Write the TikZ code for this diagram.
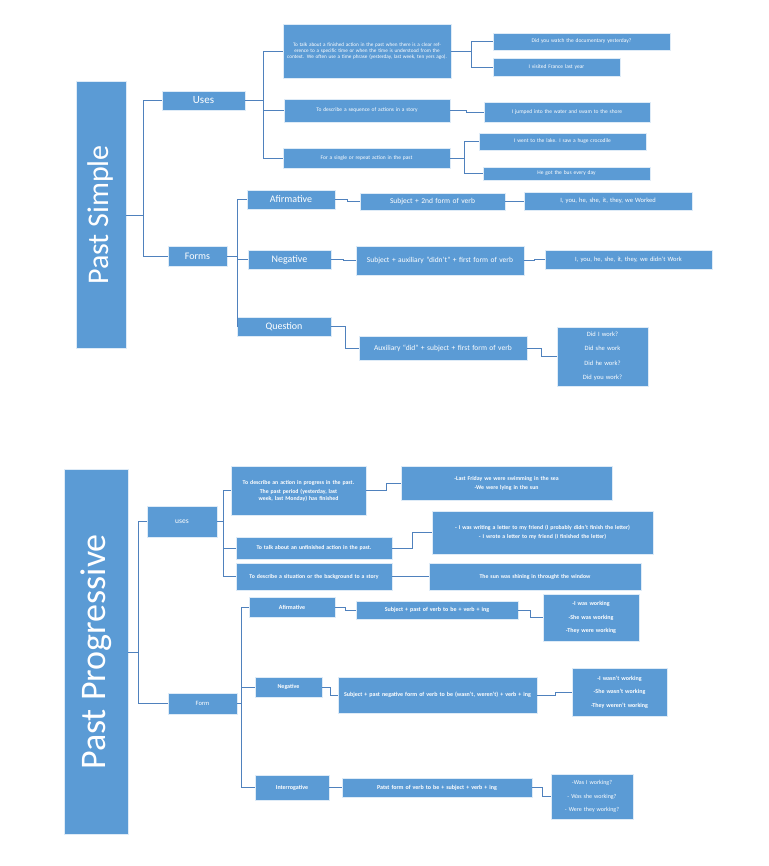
\documentclass[tikz,border=0pt]{standalone}
\usepackage{fontspec}
\setmainfont{Carlito}
\definecolor{boxblue}{HTML}{5B9BD5}
\definecolor{lineblue}{HTML}{4F81BD}
\tikzset{
  box/.style={fill=boxblue,draw=white!80!boxblue,line width=0.6pt,text=white,align=center,inner sep=1pt},
  conn/.style={draw=lineblue,line width=0.8pt,to path={-- ++(#1,0) |- (\tikztotarget)}},
  conn/.default=8pt
}
% box from corners: name, x1, y1, x2, y2, font, text
\newcommand{\bx}[7]{%
  \node[box,font=#6,minimum width=#4-#2,minimum height=#5-#3,text width=#4-#2-6]
    (#1) at ({(#2+#4)/2},{(#3+#5)/2}) {#7};}
\begin{document}
\begin{tikzpicture}[x=1pt,y=-1pt]
  \useasboundingbox (0,0) rectangle (768,866);

  % Past Simple
  \node[box,minimum width=267,minimum height=50,font=\fontsize{30}{30}\selectfont,rotate=90] (ps) at (101,215) {Past Simple};
  \bx{uses}{162}{91}{245}{110}{\fontsize{11}{12}\selectfont}{Uses}
  \bx{forms}{168}{246}{227}{266}{\fontsize{10}{12}\selectfont}{Forms}
  \bx{u1}{283}{24}{451}{78}{\fontsize{5.2}{6.3}\selectfont}{To talk about a finished action in the past when there is a clear reference to a specific time or when the time is understood from the context. We often use a time phrase (yesterday, last week, ten yers ago).}
  \bx{u1a}{493}{33}{670}{50}{\fontsize{5.5}{6.5}\selectfont}{Did you watch the documentary yesterday?}
  \bx{u1b}{493}{58}{620}{76}{\fontsize{5.5}{6.5}\selectfont}{I visited France last year}
  \bx{u2}{284}{99}{450}{122}{\fontsize{5.5}{6.5}\selectfont}{To describe a sequence of actions in a story}
  \bx{u2a}{484}{102}{650}{122}{\fontsize{5.5}{6.5}\selectfont}{I jumped into the water and swam to the shore}
  \bx{u3}{283}{148}{450}{168}{\fontsize{5.5}{6.5}\selectfont}{For a single or repeat action in the past}
  \bx{u3a}{479}{133}{646}{150}{\fontsize{5.5}{6.5}\selectfont}{I went to the lake. I saw a huge crocodile}
  \bx{u3b}{483}{167}{650}{180}{\fontsize{5.5}{6.5}\selectfont}{He got the bus every day}
  \bx{fa}{247}{190}{335}{209}{\fontsize{10}{12}\selectfont}{Afirmative}
  \bx{fas}{360}{193}{505}{210}{\fontsize{7.5}{9}\selectfont}{Subject + 2nd form of verb}
  \bx{far}{524}{192}{692}{210}{\fontsize{6.5}{8}\selectfont}{I, you, he, she, it, they, we Worked}
  \bx{fn}{248}{250}{331}{269}{\fontsize{10}{12}\selectfont}{Negative}
  \bx{fns}{356}{246}{524}{275}{\fontsize{7.5}{9}\selectfont}{Subject + auxiliary “didn’t” + first form of verb}
  \bx{fnr}{545}{250}{712}{269}{\fontsize{6.5}{8}\selectfont}{I, you, he, she, it, they, we didn’t Work}
  \bx{fq}{237}{317}{331}{336}{\fontsize{10}{12}\selectfont}{Question}
  \bx{fqs}{359}{336}{527}{360}{\fontsize{7.5}{9}\selectfont}{Auxiliary “did” + subject + first form of verb}
  \bx{fqr}{557}{327}{648}{386}{\fontsize{6.5}{14.5}\selectfont}{Did I work?\\Did she work\\Did he work?\\Did you work?}

  \path (ps.south) edge[conn=17pt] (uses.west) (ps.south) edge[conn=17pt] (forms.west)
        (uses.east) edge[conn=18pt] (u1.west) (uses.east) edge[conn=18pt] (u2.west) (uses.east) edge[conn=18pt] (u3.west)
        (u1.east) edge[conn=20pt] (u1a.west) (u1.east) edge[conn=20pt] (u1b.west)
        (u2.east) edge[conn=16pt] (u2a.west)
        (u3.east) edge[conn=14pt] (u3a.west) (u3.east) edge[conn=14pt] (u3b.west)
        (forms.east) edge[conn=10pt] (fa.west) (forms.east) edge[conn=10pt] (fn.west) (forms.east) edge[conn=10pt] (fq.west)
        (fa.east) edge[conn=12pt] (fas.west) (fas.east) edge[conn=10pt] (far.west)
        (fn.east) edge[conn=12pt] (fns.west) (fns.east) edge[conn=10pt] (fnr.west)
        (fq.east) edge[conn=14pt] (fqs.west) (fqs.east) edge[conn=14pt] (fqr.west);

  % Past Progressive
  \node[box,minimum width=365,minimum height=64,font=\fontsize{36}{36}\selectfont,rotate=90] (pp) at (96,652) {Past Progressive};
  \bx{puses}{147}{506}{217}{537}{\fontsize{7.5}{9}\selectfont}{uses}
  \bx{pform}{168}{693}{237}{714}{\fontsize{6.5}{8}\selectfont}{Form}
  \bx{p1}{231}{466}{366}{515}{\fontsize{5.8}{7}\bfseries\selectfont}{To describe an action in progress in the past.\\[2pt]The past period (yesterday, last week, last Monday) has finished}
  \bx{p1a}{401}{466}{612}{500}{\fontsize{5.8}{7}\bfseries\selectfont}{-Last Friday we were swimming in the sea\\[2pt]-We were lying in the sun}
  \bx{p2}{236}{537}{392}{559}{\fontsize{5.8}{7}\bfseries\selectfont}{To talk about an unfinished action in the past.}
  \bx{p2a}{432}{511}{653}{554}{\fontsize{5.8}{7}\bfseries\selectfont}{- I was writing a letter to my friend (I probably didn’t finish the letter)\\[2pt]- I wrote a letter to my friend (I finished the letter)}
  \bx{p3}{236}{563}{392}{590}{\fontsize{5.8}{7}\bfseries\selectfont}{To describe a situation or the background to a story}
  \bx{p3a}{429}{563}{641}{590}{\fontsize{5.8}{7}\bfseries\selectfont}{The sun was shining in throught the window}
  \bx{pa}{249}{597}{335}{617}{\fontsize{6}{7}\bfseries\selectfont}{Afirmative}
  \bx{pas}{356}{601}{518}{619}{\fontsize{6}{7}\bfseries\selectfont}{Subject + past of verb to be + verb + ing}
  \bx{par}{543}{594}{639}{641}{\fontsize{6}{13.5}\bfseries\selectfont}{-I was working\\-She was working\\-They were working}
  \bx{pn}{255}{677}{322}{697}{\fontsize{6}{7}\bfseries\selectfont}{Negative}
  \bx{pns}{338}{677}{537}{713}{\fontsize{6}{8}\bfseries\selectfont}{Subject + past negative form of verb to be (wasn’t, weren’t) + verb + ing}
  \bx{pnr}{572}{668}{667}{716}{\fontsize{6}{13.5}\bfseries\selectfont}{-I wasn’t working\\-She wasn’t working\\-They weren’t working}
  \bx{pi}{255}{775}{329}{800}{\fontsize{6}{7}\bfseries\selectfont}{Interrogative}
  \bx{pis}{342}{778}{532}{797}{\fontsize{6}{7}\bfseries\selectfont}{Patst form of verb to be + subject + verb + ing}
  \bx{pir}{551}{774}{633}{819}{\fontsize{6}{13.5}\selectfont}{-Was I working?\\- Was she working?\\- Were they working?}

  \path (pp.south) edge[conn=10pt] (puses.west) (pp.south) edge[conn=10pt] (pform.west)
        (puses.east) edge[conn=6pt] (p1.west) (puses.east) edge[conn=6pt] (p2.west) (puses.east) edge[conn=6pt] (p3.west)
        (p1.east) edge[conn=20pt] (p1a.west) (p2.east) edge[conn=20pt] (p2a.west) (p3.east) edge[conn=20pt] (p3a.west)
        (pform.east) edge[conn=4pt] (pa.west) (pform.east) edge[conn=4pt] (pn.west) (pform.east) edge[conn=4pt] (pi.west)
        (pa.east) edge[conn=10pt] (pas.west) (pas.east) edge[conn=12pt] (par.west)
        (pn.east) edge[conn=8pt] (pns.west) (pns.east) edge[conn=18pt] (pnr.west)
        (pi.east) edge[conn=6pt] (pis.west) (pis.east) edge[conn=10pt] (pir.west);
\end{tikzpicture}
\end{document}
